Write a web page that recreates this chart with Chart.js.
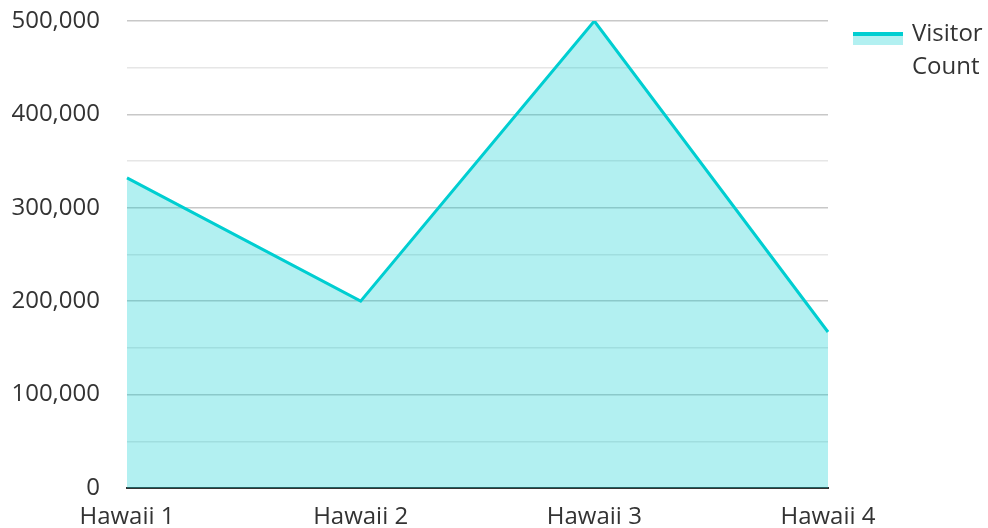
<!DOCTYPE html>
<html lang="en">
<head>
  <meta charset="UTF-8">
  <title>Visitor Count</title>
  <script src="https://cdn.jsdelivr.net/npm/chart.js"></script>
  <style>
    html, body { margin: 0; padding: 0; background: #fff; overflow: hidden; }
    #chart-container { width: 988px; height: 528px; position: relative; }
  </style>
</head>
<body>
  <div id="chart-container">
    <canvas id="visitorChart"></canvas>
  </div>
  <script>
    const categories = ['Hawaii 1', 'Hawaii 2', 'Hawaii 3', 'Hawaii 4'];
    const visitorCount = [332000, 200000, 500000, 167000];
    const seriesLabel = ['Visitor', 'Count'];

    const lineColor = '#00CED1';
    const fillColor = 'rgba(0, 206, 209, 0.3)';
    const textColor = '#333333';
    const fontFamily = '"Open Sans", "Noto Sans", sans-serif';

    // legend drawn by hand so the label can wrap onto two lines
    const sideLegend = {
      id: 'sideLegend',
      afterDraw(chart) {
        const ctx = chart.ctx;
        const x = chart.chartArea.right + 25;
        const y = 32;
        ctx.save();
        ctx.fillStyle = fillColor;
        ctx.fillRect(x, y, 50, 13);
        ctx.fillStyle = lineColor;
        ctx.fillRect(x, y, 50, 4);
        ctx.fillStyle = textColor;
        ctx.font = '24px ' + fontFamily;
        ctx.textBaseline = 'middle';
        seriesLabel.forEach((t, i) => ctx.fillText(t, x + 59, y + 2 + i * 33));
        ctx.restore();
      }
    };

    new Chart(document.getElementById('visitorChart'), {
      type: 'line',
      data: {
        labels: categories,
        datasets: [{
          label: seriesLabel.join(' '),
          data: visitorCount,
          borderColor: lineColor,
          backgroundColor: fillColor,
          borderWidth: 3,
          fill: 'origin',
          pointRadius: 0,
          tension: 0
        }]
      },
      options: {
        responsive: true,
        maintainAspectRatio: false,
        animation: false,
        layout: { padding: { top: 21, right: 160, left: 0, bottom: 0 } },
        plugins: {
          legend: { display: false },
          tooltip: { enabled: false }
        },
        scales: {
          x: {
            offset: false,
            grid: { display: false, drawTicks: false },
            border: { display: true, color: '#333333', width: 2 },
            ticks: {
              color: textColor,
              padding: 15,
              maxRotation: 0,
              font: { size: 24, family: fontFamily }
            },
            afterFit(scale) {
              scale.height = 40;
              scale.paddingLeft = 0;
              scale.paddingRight = 0;
            }
          },
          y: {
            min: 0,
            max: 500000,
            grid: {
              drawTicks: false,
              color: c => (c.tick && c.tick.value % 100000 === 0) ? '#c8c8c8' : '#e6e6e6',
              lineWidth: 1.5
            },
            border: { display: false },
            ticks: {
              stepSize: 50000,
              padding: 27,
              color: textColor,
              font: { size: 24, family: fontFamily },
              callback: v => v % 100000 === 0 ? v.toLocaleString('en-US') : ''
            },
            afterFit(scale) {
              scale.width = 127;
              scale.paddingTop = 0;
              scale.paddingBottom = 0;
            }
          }
        }
      },
      plugins: [sideLegend]
    });
  </script>
</body>
</html>
